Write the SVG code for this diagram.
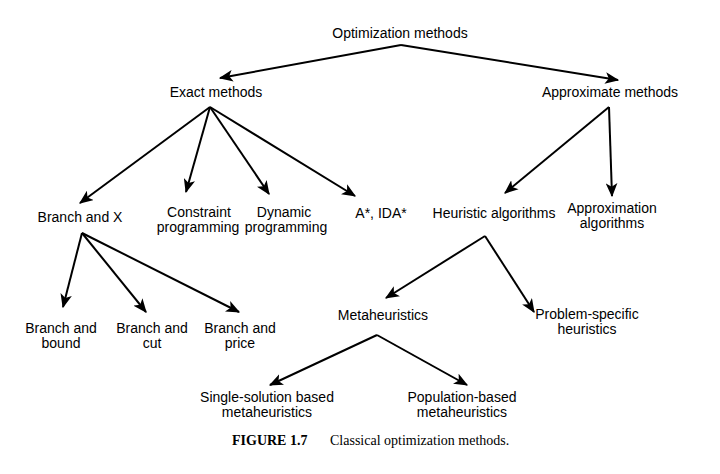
<svg xmlns="http://www.w3.org/2000/svg" width="720" height="474" viewBox="0 0 720 474">
<style>
text{font-family:"Liberation Sans",Arial,sans-serif;font-size:14px;fill:#000;text-anchor:middle}
.c line{stroke:#000;stroke-width:2;marker-end:url(#a)}
.cap{font-family:"Liberation Serif","Times New Roman",serif;font-size:14px;text-anchor:start}
</style>
<defs><marker id="a" viewBox="0 0 12 10" refX="11" refY="5" markerWidth="7" markerHeight="6" orient="auto" markerUnits="strokeWidth"><path d="M0,0 L12,5 L0,10 L3,5 z" fill="#000"/></marker></defs>
<rect width="720" height="474" fill="#fff"/>
<g class="c" id="connectors">
<line x1="401" y1="45" x2="220" y2="78"/>
<line x1="401" y1="45" x2="618" y2="80"/>
<line x1="210" y1="107" x2="80" y2="203"/>
<line x1="210" y1="107" x2="186" y2="192"/>
<line x1="210" y1="107" x2="269" y2="194"/>
<line x1="210" y1="107" x2="355" y2="196"/>
<line x1="609" y1="107" x2="505" y2="193"/>
<line x1="609" y1="107" x2="612" y2="196"/>
<line x1="485" y1="236" x2="386" y2="298"/>
<line x1="485" y1="236" x2="534" y2="312"/>
<line x1="377" y1="335" x2="270" y2="385"/>
<line x1="377" y1="335" x2="467" y2="385"/>
<line x1="82" y1="233" x2="63" y2="307"/>
<line x1="82" y1="233" x2="146" y2="312"/>
<line x1="82" y1="233" x2="239" y2="312"/>
</g>
<g id="n0"><text x="400" y="38">Optimization methods</text></g>
<g id="n1"><text x="216" y="97">Exact methods</text></g>
<g id="n2"><text x="610" y="97">Approximate methods</text></g>
<g id="n3"><text x="80" y="222">Branch and X</text></g>
<g id="n4"><text x="199" y="217">Constraint</text><text x="198" y="232">programming</text></g>
<g id="n5"><text x="284" y="217">Dynamic</text><text x="286" y="232">programming</text></g>
<g id="n6"><text x="381" y="218">A*, IDA*</text></g>
<g id="n7"><text x="494" y="218">Heuristic algorithms</text></g>
<g id="n8"><text x="612" y="213">Approximation</text><text x="612" y="228">algorithms</text></g>
<g id="n9"><text x="383" y="320">Metaheuristics</text></g>
<g id="n10"><text x="587" y="319">Problem-specific</text><text x="587" y="334">heuristics</text></g>
<g id="n11"><text x="267" y="402">Single-solution based</text><text x="267" y="417">metaheuristics</text></g>
<g id="n12"><text x="462" y="402">Population-based</text><text x="462" y="417">metaheuristics</text></g>
<g id="n13"><text x="61" y="333">Branch and</text><text x="61" y="348">bound</text></g>
<g id="n14"><text x="152" y="333">Branch and</text><text x="152" y="348">cut</text></g>
<g id="n15"><text x="240" y="333">Branch and</text><text x="240" y="348">price</text></g>
<text class="cap" x="232" y="445"><tspan font-weight="bold">FIGURE 1.7</tspan><tspan x="330">Classical optimization methods.</tspan></text>
</svg>
